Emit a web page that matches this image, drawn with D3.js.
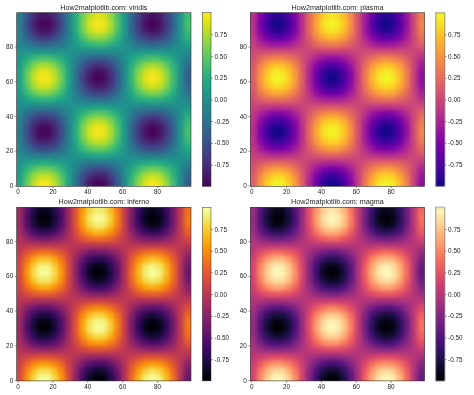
<!DOCTYPE html>
<html><head><meta charset="utf-8">
<script src="https://cdn.jsdelivr.net/npm/d3@7"></script>
<style>html,body{margin:0;padding:0;background:#fff}svg{display:block}text{font-family:"Liberation Sans";fill:#222}</style>
</head><body><script>
const panelTitles=["How2matplotlib.com: viridis","How2matplotlib.com: plasma","How2matplotlib.com: inferno","How2matplotlib.com: magma"];
const axisTicks=[0,20,40,60,80];
const colorbarTicks=[-0.75,-0.5,-0.25,0,0.25,0.5,0.75];
const colorbarLabels=["-0.75","-0.50","-0.25","0.00","0.25","0.50","0.75"];
// cell values, bottom row first, 25 x 25 cells, each four image pixels wide
const grid=[
[.15,.52,.81,.97,.97,.81,.53,.16,-.24,-.59,-.86,-.98,-.95,-.76,-.46,-.07,.33,.66,.90,.99,.92,.70,.38,-.02,-.41],
[.13,.45,.70,.83,.83,.70,.46,.14,-.20,-.51,-.74,-.84,-.82,-.65,-.39,-.06,.28,.57,.77,.85,.79,.60,.32,-.02,-.35],
[.09,.30,.47,.56,.56,.47,.31,.09,-.14,-.34,-.50,-.56,-.55,-.44,-.26,-.04,.19,.38,.52,.57,.53,.40,.22,-.01,-.23],
[.03,.11,.17,.21,.21,.17,.11,.03,-.05,-.13,-.18,-.21,-.20,-.16,-.10,-.01,.07,.14,.19,.21,.20,.15,.08,.00,-.09],
[-.03,-.11,-.16,-.20,-.20,-.16,-.11,-.03,.05,.12,.17,.20,.19,.15,.09,.01,-.07,-.13,-.18,-.20,-.19,-.14,-.08,.00,.08],
[-.09,-.30,-.47,-.56,-.56,-.47,-.31,-.09,.14,.34,.50,.56,.55,.44,.26,.04,-.19,-.38,-.52,-.57,-.53,-.40,-.22,.01,.23],
[-.13,-.45,-.69,-.82,-.82,-.69,-.45,-.13,.20,.50,.73,.83,.81,.65,.39,.06,-.28,-.56,-.76,-.84,-.78,-.60,-.32,.02,.34],
[-.15,-.52,-.81,-.97,-.97,-.81,-.53,-.16,.24,.59,.86,.98,.95,.76,.46,.07,-.33,-.66,-.90,-.99,-.92,-.70,-.38,.02,.41],
[-.15,-.51,-.80,-.95,-.95,-.80,-.52,-.16,.23,.58,.84,.96,.93,.75,.45,.07,-.32,-.65,-.88,-.97,-.90,-.69,-.37,.02,.40],
[-.12,-.42,-.66,-.78,-.78,-.66,-.43,-.13,.19,.48,.70,.79,.77,.62,.37,.06,-.26,-.54,-.73,-.80,-.74,-.57,-.30,.02,.33],
[-.08,-.27,-.41,-.49,-.49,-.41,-.27,-.08,.12,.30,.44,.50,.48,.39,.23,.04,-.17,-.34,-.46,-.50,-.47,-.36,-.19,.01,.21],
[-.02,-.06,-.10,-.12,-.12,-.10,-.06,-.02,.03,.07,.10,.12,.12,.09,.06,.01,-.04,-.08,-.11,-.12,-.11,-.09,-.05,.00,.05],
[.04,.15,.23,.27,.27,.23,.15,.04,-.07,-.17,-.24,-.28,-.27,-.22,-.13,-.02,.09,.19,.25,.28,.26,.20,.11,-.01,-.11],
[.10,.34,.52,.63,.63,.52,.35,.10,-.15,-.38,-.56,-.63,-.61,-.49,-.29,-.04,.21,.43,.58,.64,.60,.45,.24,-.01,-.26],
[.13,.47,.73,.87,.87,.73,.48,.14,-.21,-.53,-.77,-.88,-.85,-.69,-.41,-.06,.29,.60,.81,.89,.83,.63,.34,-.02,-.36],
[.15,.53,.82,.98,.98,.82,.54,.16,-.24,-.60,-.87,-.99,-.96,-.77,-.46,-.07,.33,.67,.91,1.00,.93,.71,.38,-.02,-.41],
[.14,.50,.78,.93,.93,.78,.51,.15,-.23,-.57,-.83,-.94,-.91,-.73,-.44,-.07,.31,.64,.86,.95,.88,.67,.36,-.02,-.39],
[.11,.39,.61,.73,.73,.61,.40,.12,-.18,-.44,-.64,-.73,-.71,-.57,-.34,-.05,.24,.50,.67,.74,.69,.53,.28,-.01,-.30],
[.06,.22,.34,.41,.41,.34,.23,.07,-.10,-.25,-.37,-.42,-.40,-.32,-.19,-.03,.14,.28,.38,.42,.39,.30,.16,-.01,-.17],
[.00,.02,.02,.03,.03,.02,.02,.00,-.01,-.02,-.03,-.03,-.03,-.02,-.01,.00,.01,.02,.03,.03,.03,.02,.01,.00,-.01],
[-.06,-.20,-.30,-.36,-.36,-.30,-.20,-.06,.09,.22,.32,.37,.36,.28,.17,.03,-.12,-.25,-.34,-.37,-.34,-.26,-.14,.01,.15],
[-.11,-.37,-.57,-.69,-.69,-.57,-.38,-.11,.17,.42,.61,.69,.67,.54,.32,.05,-.23,-.47,-.64,-.70,-.65,-.50,-.27,.01,.29],
[-.14,-.49,-.76,-.91,-.91,-.76,-.50,-.15,.22,.56,.81,.92,.89,.72,.43,.07,-.31,-.62,-.85,-.93,-.86,-.66,-.35,.02,.38],
[-.15,-.53,-.82,-.98,-.98,-.82,-.54,-.16,.24,.60,.87,.99,.96,.77,.46,.07,-.33,-.67,-.91,-1.00,-.93,-.71,-.38,.02,.41],
[-.14,-.48,-.75,-.89,-.89,-.75,-.49,-.15,.22,.55,.79,.90,.87,.70,.42,.06,-.30,-.61,-.83,-.91,-.85,-.65,-.35,.02,.37]
];
const W=474,H=395;
const schemes=[d3.interpolateViridis,d3.interpolatePlasma,d3.interpolateInferno,d3.interpolateMagma];
const plotW=174.3,plotH=173.6,cbW=8.7;
const origins=[[16.7,12.7],[250.3,12.7],[16.7,207.3],[250.3,207.3]];
const svg=d3.select("body").append("svg").attr("width",W).attr("height",H);
const defs=svg.append("defs");
const soft=defs.append("filter").attr("id","soft").attr("x","-5%").attr("y","-5%").attr("width","110%").attr("height","110%").attr("color-interpolation-filters","sRGB");
soft.append("feGaussianBlur").attr("stdDeviation",2.3);
const textSoft=defs.append("filter").attr("id","ts").attr("x","-5%").attr("y","-5%").attr("width","110%").attr("height","110%").attr("color-interpolation-filters","sRGB");
textSoft.append("feGaussianBlur").attr("stdDeviation",0.25);
const clip=defs.append("clipPath").attr("id","plotclip");
clip.append("rect").attr("width",plotW).attr("height",plotH);
const cellIdx=d3.range(grid.length);
const xBand=d3.scaleBand().domain(cellIdx).range([0,plotW]);
const yBand=d3.scaleBand().domain(cellIdx).range([plotH,0]);
const xAxisScale=d3.scaleLinear().domain([-0.5,99.5]).range([0,plotW]);
const yAxisScale=d3.scaleLinear().domain([-0.5,99.5]).range([plotH,0]);
const cbScale=d3.scaleLinear().domain([-1,1]).range([plotH,0]);
const gradStops=d3.range(0,33).map(d=>d/32);
schemes.forEach((s,p)=>{
  const lg=defs.append("linearGradient").attr("id","cb"+p).attr("x1",0).attr("y1",1).attr("x2",0).attr("y2",0);
  lg.selectAll("stop").data(gradStops).enter().append("stop").attr("offset",d=>d).attr("stop-color",d=>s(d));
});
panelTitles.forEach((title,p)=>{
  const [ox,oy]=origins[p];
  const color=d3.scaleSequential(schemes[p]).domain([-1,1]);
  const g=svg.append("g").attr("transform",`translate(${ox},${oy})`);
  const clipped=g.append("g").attr("clip-path","url(#plotclip)");
  const draw=(sel)=>{
    grid.forEach((row,j)=>{
      sel.selectAll(null).data(row).enter().append("rect")
        .attr("x",(d,i)=>xBand(i)-0.3).attr("y",yBand(j)-0.3)
        .attr("width",xBand.bandwidth()+0.6).attr("height",yBand.bandwidth()+0.6)
        .attr("fill",d=>color(d));
    });
  };
  draw(clipped.append("g"));
  draw(clipped.append("g").attr("filter","url(#soft)"));
  g.append("rect").attr("width",plotW).attr("height",plotH).attr("fill","none").attr("stroke","#333").attr("stroke-width",0.6);
  const ink=g.append("g").attr("filter","url(#ts)");
  const xa=ink.append("g").attr("transform",`translate(0,${plotH})`).call(d3.axisBottom(xAxisScale).tickValues(axisTicks).tickSize(2).tickPadding(1.5));
  const ya=ink.append("g").call(d3.axisLeft(yAxisScale).tickValues(axisTicks).tickSize(2).tickPadding(1.5));
  [xa,ya].forEach(a=>{a.select(".domain").remove();a.selectAll("line").attr("stroke","#333").attr("stroke-width",0.5);a.selectAll("text").attr("font-size",6.4).attr("font-family","Liberation Sans");});
  ink.append("text").attr("x",plotW/2).attr("y",-3.2).attr("text-anchor","middle").attr("font-size",7.2).text(title);
  const cb=g.append("g").attr("transform",`translate(${plotW+11.3},0)`);
  cb.append("rect").attr("width",cbW).attr("height",plotH).attr("fill",`url(#cb${p})`).attr("stroke","#333").attr("stroke-width",0.5);
  const ca=ink.append("g").attr("transform",`translate(${plotW+11.3+cbW},0)`)
    .call(d3.axisRight(cbScale).tickValues(colorbarTicks).tickFormat((d,i)=>colorbarLabels[i]).tickSize(2).tickPadding(1.5));
  ca.select(".domain").remove();
  ca.selectAll("line").attr("stroke","#333").attr("stroke-width",0.5);
  ca.selectAll("text").attr("font-size",6.4).attr("font-family","Liberation Sans");
});
</script></body></html>
